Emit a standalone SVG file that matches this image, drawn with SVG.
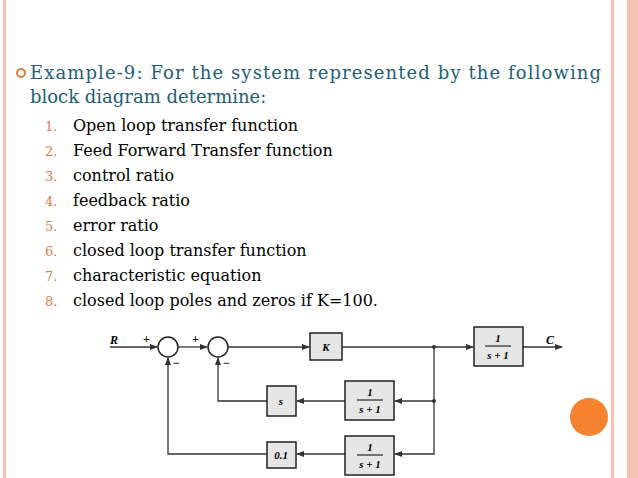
<svg xmlns="http://www.w3.org/2000/svg" width="638" height="478" viewBox="0 0 638 478">
<defs>
<style>
.t{font-family:"DejaVu Serif",serif;fill:#215e78;font-size:18px}
.n{font-family:"DejaVu Serif",serif;fill:#e07a4a;font-size:13px}
.i{font-family:"DejaVu Serif",serif;fill:#000;font-size:16px}
.b{fill:#e6e6e6;stroke:#222;stroke-width:1.5}
.l{fill:none;stroke:#333;stroke-width:1.3}
.m{font-family:"Liberation Serif",serif;font-size:11px;font-weight:bold;font-style:italic;text-anchor:middle}
</style>
<marker id="a" markerWidth="8" markerHeight="6" refX="7" refY="3" orient="auto" markerUnits="userSpaceOnUse"><path d="M0,0L8,3L0,6z" fill="#333"/></marker>
</defs>
<rect width="638" height="478" fill="#fff"/>
<rect x="3" y="0" width="3" height="478" fill="#f6c1ae"/>
<rect x="611" y="0" width="3" height="478" fill="#f6c1ae"/>
<rect x="627" y="0" width="11" height="478" fill="#f6c1ae"/>
<circle cx="589" cy="417" r="19" fill="#f4822f"/>
<circle cx="21" cy="73" r="4" fill="none" stroke="#e07a3a" stroke-width="2"/>
<text class="t" x="30" y="79" textLength="571" lengthAdjust="spacing">Example-9: For the system represented by the following</text>
<text class="t" x="30" y="103">block diagram determine:</text>
<g>
<text class="n" x="45" y="131">1.</text><text class="i" x="73" y="131">Open loop transfer function</text>
<text class="n" x="45" y="156">2.</text><text class="i" x="73" y="156">Feed Forward Transfer function</text>
<text class="n" x="45" y="181">3.</text><text class="i" x="73" y="181">control ratio</text>
<text class="n" x="45" y="206">4.</text><text class="i" x="73" y="206">feedback ratio</text>
<text class="n" x="45" y="231">5.</text><text class="i" x="73" y="231">error ratio</text>
<text class="n" x="45" y="256">6.</text><text class="i" x="73" y="256">closed loop transfer function</text>
<text class="n" x="45" y="281">7.</text><text class="i" x="73" y="281">characteristic equation</text>
<text class="n" x="45" y="306">8.</text><text class="i" x="73" y="306">closed loop poles and zeros if K=100.</text>
</g>
<g id="connectors">
<path class="l" d="M110,347H157" marker-end="url(#a)"/>
<path class="l" d="M178,347H207" marker-end="url(#a)"/>
<path class="l" d="M228,347H309" marker-end="url(#a)"/>
<path class="l" d="M342,347H473" marker-end="url(#a)"/>
<path class="l" d="M523,347H562" marker-end="url(#a)"/>
<path class="l" d="M434,347V454H395" marker-end="url(#a)"/>
<path class="l" d="M434,401H395" marker-end="url(#a)"/>
<path class="l" d="M345,401H297" marker-end="url(#a)"/>
<path class="l" d="M267,401H218V358" marker-end="url(#a)"/>
<path class="l" d="M345,454H297" marker-end="url(#a)"/>
<path class="l" d="M267,454H168V358" marker-end="url(#a)"/>
<circle cx="434" cy="347" r="2" fill="#333"/><circle cx="434" cy="401" r="2" fill="#333"/>
</g>
<g id="labels" font-family="Liberation Serif,serif" font-size="12" font-weight="bold">
<text x="110" y="344" font-style="italic">R</text>
<text x="546" y="344" font-style="italic">C</text>
<text x="143" y="343">+</text><text x="192" y="343">+</text>
<text x="173" y="367">−</text><text x="223" y="367">−</text>
</g>
<g id="sum1"><circle cx="168" cy="347" r="10" fill="#fff" stroke="#222" stroke-width="1.5"/></g>
<g id="sum2"><circle cx="218" cy="347" r="10" fill="#fff" stroke="#222" stroke-width="1.5"/></g>
<g id="K"><rect class="b" x="310" y="333" width="32" height="27"/><text class="m" x="326" y="351">K</text></g>
<g id="G"><rect class="b" x="474" y="327" width="49" height="39"/><text class="m" x="498" y="342" font-style="normal">1</text><line x1="485" y1="346" x2="511" y2="346" stroke="#000"/><text class="m" x="498" y="359">s + 1</text></g>
<g id="S"><rect class="b" x="267" y="386" width="29" height="30"/><text class="m" x="281" y="405">s</text></g>
<g id="H1"><rect class="b" x="345" y="381" width="49" height="39"/><text class="m" x="370" y="396" font-style="normal">1</text><line x1="357" y1="400" x2="383" y2="400" stroke="#000"/><text class="m" x="370" y="413">s + 1</text></g>
<g id="P"><rect class="b" x="267" y="442" width="29" height="26"/><text class="m" x="281" y="459" font-style="normal">0.1</text></g>
<g id="H2"><rect class="b" x="345" y="436" width="49" height="39"/><text class="m" x="370" y="451" font-style="normal">1</text><line x1="357" y1="455" x2="383" y2="455" stroke="#000"/><text class="m" x="370" y="468">s + 1</text></g>
</svg>
